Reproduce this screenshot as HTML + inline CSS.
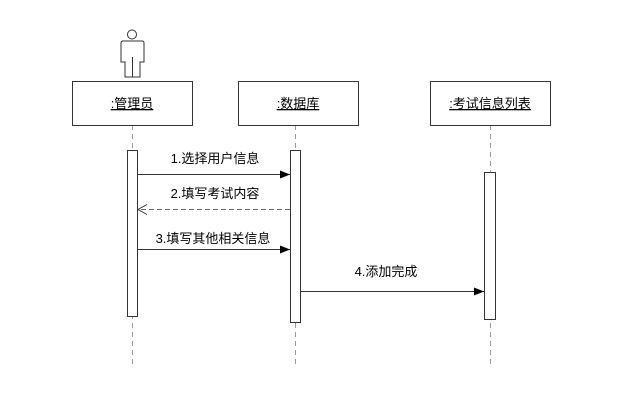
<!DOCTYPE html>
<html><head><meta charset="utf-8"><style>
html,body{margin:0;padding:0;background:#fff;}
svg{display:block;}
text{font-family:"Liberation Sans","Noto Sans CJK SC",sans-serif;font-size:13px;fill:#000;}
</style></head><body>
<svg width="632" height="411" viewBox="0 0 632 411" xmlns="http://www.w3.org/2000/svg">
<defs>
<marker id="fa" markerWidth="10" markerHeight="8" refX="10" refY="4" orient="auto" markerUnits="userSpaceOnUse"><path d="M0,0 L10,4 L0,8 Z" fill="#000"/></marker>
</defs>
<!-- actor -->
<g stroke="#333" stroke-width="1" fill="#fff">
<circle cx="132" cy="34.5" r="4.5"/>
<path d="M122,41 H142 Q144,41 144,43 V62 H140 V77 H125 V62 H121 V43 Q121,41 123,41 Z"/>
<line x1="132.5" y1="57" x2="132.5" y2="77"/>
</g>
<!-- lifelines -->
<g stroke="#999" stroke-dasharray="5,4" stroke-width="1">
<line x1="132.5" y1="125" x2="132.5" y2="368"/>
<line x1="295.5" y1="125" x2="295.5" y2="368"/>
<line x1="490.5" y1="125" x2="490.5" y2="368"/>
</g>
<!-- heads -->
<g stroke="#333" fill="#fff">
<rect x="72.5" y="81.5" width="120" height="44"/>
<rect x="238.5" y="81.5" width="120" height="44"/>
<rect x="430.5" y="81.5" width="120" height="44"/>
</g>
<text x="132" y="108" text-anchor="middle" text-decoration="underline">:管理员</text>
<text x="298" y="108" text-anchor="middle" text-decoration="underline">:数据库</text>
<text x="490" y="108" text-anchor="middle" text-decoration="underline">:考试信息列表</text>
<!-- activations -->
<g stroke="#333" fill="#fff">
<rect x="127.5" y="150.5" width="10" height="166"/>
<rect x="290.5" y="150.5" width="10" height="172"/>
<rect x="484.5" y="172.5" width="11" height="147"/>
</g>
<!-- messages -->
<line x1="138" y1="174.5" x2="290" y2="174.5" stroke="#333" marker-end="url(#fa)"/>
<text x="215" y="163" text-anchor="middle">1.选择用户信息</text>
<line x1="290" y1="209.5" x2="139" y2="209.5" stroke="#666" stroke-dasharray="5,3"/>
<path d="M147,204.5 L138,209.5 L147,214.5" fill="none" stroke="#333"/>
<text x="215" y="198" text-anchor="middle">2.填写考试内容</text>
<line x1="138" y1="249.5" x2="290" y2="249.5" stroke="#333" marker-end="url(#fa)"/>
<text x="213" y="243" text-anchor="middle">3.填写其他相关信息</text>
<line x1="301" y1="291.5" x2="484" y2="291.5" stroke="#333" marker-end="url(#fa)"/>
<text x="386" y="276" text-anchor="middle">4.添加完成</text>
</svg>
</body></html>
